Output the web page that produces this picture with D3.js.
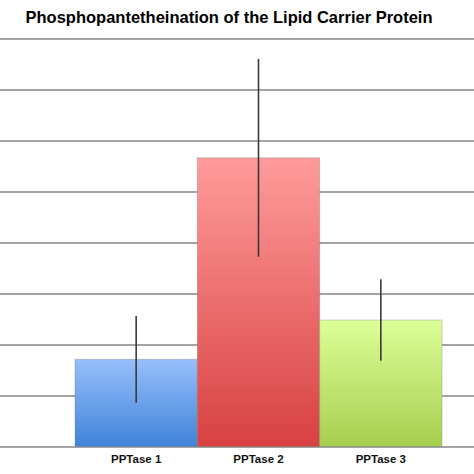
<!DOCTYPE html>
<html>
<head>
    <meta charset="utf-8">
    <title>pptase</title>
    <script src="https://cdn.jsdelivr.net/npm/d3@7"></script>
    <style>
        body { margin: 0; background: #fff; }
        .title { font-family: "Liberation Sans", Arial, sans-serif; font-weight: bold; font-size: 16.5px; fill: #000; }
        .xlab { font-family: "Liberation Sans", Arial, sans-serif; font-weight: bold; font-size: 11.5px; fill: #111; }
        .grid line { stroke: #858585; stroke-width: 1.6px; }
        .grid path { display: none; }
        .err { stroke: #3a3a3a; stroke-width: 1.6px; }
    </style>
</head>
<body>
<div id="chart"></div>
<script>
    var width = 474, height = 474;

    var categories = ["PPTase 1", "PPTase 2", "PPTase 3"];
    var values = [1.71, 5.66, 2.48];
    var errors = [0.85, 1.94, 0.80];
    var gridTicks = [0, 1, 2, 3, 4, 5, 6, 7, 8];
    var colorsTop = ["#97bffb", "#ff9b9b", "#dcfe98"];
    var colorsBottom = ["#3f83d9", "#d84141", "#a6cf4e"];

    var svg = d3.select("#chart").append("svg")
        .attr("width", width)
        .attr("height", height);

    var y = d3.scaleLinear().domain([0, 8]).range([446.5, 38.5]);
    var x = d3.scaleBand().domain(categories).range([75, 442]).padding(0);

    // gradients for bars
    var defs = svg.append("defs");
    categories.forEach(function(c, i) {
        var g = defs.append("linearGradient")
            .attr("id", "grad" + i)
            .attr("x1", 0).attr("y1", 0).attr("x2", 0).attr("y2", 1);
        g.append("stop").attr("offset", "0%").attr("stop-color", colorsTop[i]);
        g.append("stop").attr("offset", "100%").attr("stop-color", colorsBottom[i]);
    });

    svg.append("text")
        .attr("class", "title")
        .attr("x", 229)
        .attr("y", 22.5)
        .attr("text-anchor", "middle")
        .text("Phosphopantetheination of the Lipid Carrier Protein");

    // horizontal grid lines across whole width
    svg.append("g")
        .attr("class", "grid")
        .call(d3.axisRight(y).tickValues(gridTicks).tickSize(width).tickFormat(""));

    svg.selectAll(".bar")
        .data(values)
        .enter()
        .append("rect")
        .attr("class", "bar")
        .attr("x", function(d, i) { return x(categories[i]); })
        .attr("y", function(d) { return y(d); })
        .attr("width", x.bandwidth())
        .attr("height", function(d) { return y(0) - y(d); })
        .attr("fill", function(d, i) { return "url(#grad" + i + ")"; })
        .attr("stroke", "rgba(120,120,120,0.35)")
        .attr("stroke-width", 1);

    svg.selectAll(".err")
        .data(values)
        .enter()
        .append("line")
        .attr("class", "err")
        .attr("x1", function(d, i) { return x(categories[i]) + x.bandwidth() / 2; })
        .attr("x2", function(d, i) { return x(categories[i]) + x.bandwidth() / 2; })
        .attr("y1", function(d, i) { return y(d + errors[i]); })
        .attr("y2", function(d, i) { return y(d - errors[i]); });

    svg.selectAll(".xlab")
        .data(categories)
        .enter()
        .append("text")
        .attr("class", "xlab")
        .attr("x", function(d) { return x(d) + x.bandwidth() / 2; })
        .attr("y", 463)
        .attr("text-anchor", "middle")
        .text(function(d) { return d; });
</script>
</body>
</html>
